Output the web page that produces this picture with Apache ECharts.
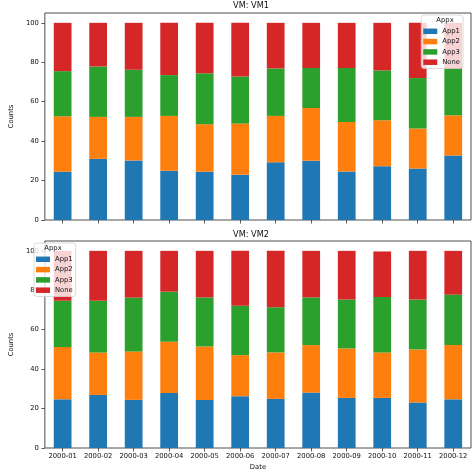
<!DOCTYPE html>
<html>
<head>
<meta charset="utf-8">
<script src="https://cdn.jsdelivr.net/npm/echarts@6/dist/echarts.min.js"></script>
<style>
html,body{margin:0;padding:0;background:#fff;}
#chart{width:474px;height:472px;}
</style>
</head>
<body>
<div id="chart"></div>
<script>
// dates on the x axis
var dates = ['2000-01','2000-02','2000-03','2000-04','2000-05','2000-06',
	'2000-07','2000-08','2000-09','2000-10','2000-11','2000-12'];
var appNames = ['App1','App2','App3','None'];
var appColors = ['#1f77b4','#ff7f0e','#2ca02c','#d62728'];
var yTicks = [0,20,40,60,80,100];

// VM1 counts (stacked)
var app1VM1 = [24.5,31.0,30.2,25.0,24.5,22.9,29.3,30.0,24.6,27.3,26.1,32.7];
var app2VM1 = [28.1,21.3,22.1,27.8,24.1,26.0,23.5,26.8,25.1,23.3,20.3,20.4];
var app3VM1 = [22.9,25.6,23.9,20.7,25.9,23.9,24.1,20.3,27.4,25.3,25.6,23.5];
var noneVM1 = [24.5,22.1,23.8,26.5,25.5,27.2,23.1,22.9,22.9,24.1,28.0,23.4];

// VM2 counts (stacked)
var app1VM2 = [24.7,26.9,24.4,27.9,24.4,26.3,24.9,28.1,25.4,25.4,23.1,24.7];
var app2VM2 = [26.5,21.6,24.6,26.0,27.1,20.8,23.6,24.1,25.1,23.1,26.9,27.5];
var app3VM2 = [23.5,26.2,27.3,25.4,24.9,25.1,22.9,24.2,24.8,28.1,25.3,25.6];
var noneVM2 = [25.3,25.3,23.7,20.7,23.6,27.8,28.6,23.6,24.7,23.1,24.7,22.2];

var vm1Data = [app1VM1,app2VM1,app3VM1,noneVM1];
var vm2Data = [app1VM2,app2VM2,app3VM2,noneVM2];

var fontName = 'DejaVu Sans';
var txtColor = '#111';
var tickFont = 6.8;

function makeXAxis(idx, showLabels){
	return {
		type:'category', gridIndex:idx, data:dates,
		boundaryGap:true,
		axisLine:{show:false},
		axisTick:{show:true, alignWithLabel:true, length:3.5, lineStyle:{color:'#333',width:0.8}},
		axisLabel:{show:showLabels, interval:0, fontFamily:fontName, fontSize:tickFont, color:txtColor, margin:4.5},
		name: showLabels ? 'Date' : '',
		nameLocation:'middle', nameGap:16,
		nameTextStyle:{fontFamily:fontName, fontSize:tickFont, color:txtColor}
	};
}

function makeYAxis(idx){
	return {
		type:'value', gridIndex:idx, min:0, max:105,
		splitLine:{show:false},
		axisLine:{show:false},
		axisTick:{show:true, length:3.5, customValues:yTicks, lineStyle:{color:'#333',width:0.8}},
		axisLabel:{fontFamily:fontName, fontSize:tickFont, color:txtColor, margin:6, customValues:yTicks},
		name:'Counts', nameLocation:'middle', nameGap:20,
		nameTextStyle:{fontFamily:fontName, fontSize:tickFont, color:txtColor}
	};
}

var series = [];
function addSeries(dataList, idx, stackName){
	for(var i=0;i<appNames.length;i++){
		series.push({
			name:appNames[i], type:'bar', stack:stackName,
			xAxisIndex:idx, yAxisIndex:idx,
			barWidth:'50%',
			itemStyle:{color:appColors[i]},
			data:dataList[i]
		});
	}
}
addSeries(vm1Data, 0, 'vm1');
addSeries(vm2Data, 1, 'vm2');

function makeLegend(pos){
	var leg = {
		data:appNames, orient:'vertical',
		itemWidth:14, itemHeight:5.5, itemGap:2.3,
		icon:'rect',
		padding:[12.3,3,2.3,2],
		backgroundColor:'rgba(255,255,255,0.8)',
		borderColor:'#d0d0d0', borderWidth:0.8, borderRadius:3,
		selectedMode:false,
		textStyle:{fontFamily:fontName, fontSize:tickFont, lineHeight:8, color:txtColor}
	};
	for(var k in pos){ leg[k] = pos[k]; }
	return leg;
}

var titleStyle = {fontFamily:fontName, fontSize:8.2, fontWeight:'normal', color:txtColor};
var legTitleStyle = {fontFamily:fontName, fontSize:tickFont, fontWeight:'normal', color:txtColor};

var option = {
	animation:false,
	backgroundColor:'#fff',
	title:[
		{text:'VM: VM1', left:251, top:2, textAlign:'center', padding:0, textStyle:titleStyle},
		{text:'VM: VM2', left:251, top:231, textAlign:'center', padding:0, textStyle:titleStyle},
		{text:'Appx', left:445, top:17, textAlign:'center', padding:0, z:10, textStyle:legTitleStyle},
		{text:'Appx', left:53, top:245, textAlign:'center', padding:0, z:10, textStyle:legTitleStyle}
	],
	legend:[makeLegend({right:11, top:15}), makeLegend({left:34, top:243})],
	grid:[
		{left:31, right:3, top:13, height:207, show:true, borderColor:'#222', borderWidth:0.8, backgroundColor:'transparent'},
		{left:31, right:3, top:241, height:208, show:true, borderColor:'#222', borderWidth:0.8, backgroundColor:'transparent'}
	],
	xAxis:[makeXAxis(0,false), makeXAxis(1,true)],
	yAxis:[makeYAxis(0), makeYAxis(1)],
	series:series
};

var myChart = echarts.init(document.getElementById('chart'), null, {renderer:'canvas'});
myChart.setOption(option);
</script>
</body>
</html>
